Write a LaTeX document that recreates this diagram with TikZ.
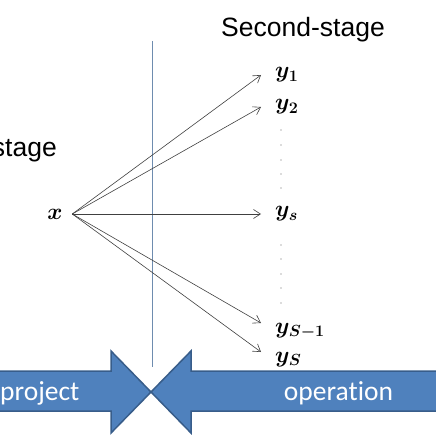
\RequirePackage{fix-cm}
\documentclass[tikz,border=0pt]{standalone}
\usepackage{amsmath,bm}
\usepackage{fontspec}
\setmainfont{Liberation Sans}
\newfontfamily\calib[Ligatures=NoCommon]{Carlito}
\usetikzlibrary{arrows.meta}
\newcommand{\labsize}{\fontsize{23}{26}\selectfont\boldmath}
\begin{document}
\begin{tikzpicture}[x=1pt,y=-1pt,
    stagetxt/.style={font=\fontsize{26.5pt}{30pt}\selectfont, inner sep=0pt},
    bandtxt/.style={font=\calib\fontsize{27.5pt}{30pt}\selectfont, text=white, inner sep=0pt},
    lbl/.style={font=\labsize, inner ysep=0pt, inner xsep=14pt},
    arr/.style={draw=black!75, line width=0.6pt, -{Straight Barb[length=7pt,width=9pt]}}]
    \useasboundingbox (0,0) rectangle (435,435);

    % Stufen
    \node[stagetxt, anchor=base] (second) at (303,37) {Second-stage};
    \node[stagetxt, anchor=base east] (first) at (57,157) {First-stage};

    % Trennlinie
    \draw[color={rgb,255:red,110;green,140;blue,175}, line width=0.7pt] (152.5,41) -- (152.5,367);

    % Entscheidungen
    \node[lbl, inner xsep=9.5pt] (x) at (55,214) {$x$};
    \node[lbl, anchor=west] (y1) at (261,75) {$y_1$};
    \node[lbl, anchor=west] (y2) at (261,107) {$y_2$};
    \node[lbl, anchor=west] (ys) at (261,214) {$y_s$};
    \node[lbl, anchor=north west] (ySm) at (261,323) {$y_{S-1}$};
    \node[lbl, anchor=north west] (yS) at (261,352) {$y_S$};

    \foreach \t in {y1, y2, ys} {
        \draw[arr] (x.east) -- (\t.west);
    }
    \foreach \t in {ySm, yS} {
        \draw[arr] (x.east) -- (\t.north west);
    }

    % Punkte
    \foreach \d in {130, 145, 160, 174, 188, 245, 259, 274, 288, 303} {
        \fill[black!60] (281,\d) circle (0.7);
    }

    % Pfeile unten
    \fill[color={rgb,255:red,79;green,129;blue,189}, draw={rgb,255:red,56;green,93;blue,138}, line width=1.5pt]
        (-5,371) -- (111,371) -- (111,351) -- (151,392) -- (111,433) -- (111,411) -- (-5,411) -- cycle;
    \fill[color={rgb,255:red,79;green,129;blue,189}, draw={rgb,255:red,56;green,93;blue,138}, line width=1.5pt]
        (440,371) -- (191,371) -- (191,351) -- (151,392) -- (191,433) -- (191,411) -- (440,411) -- cycle;
    \node[bandtxt, anchor=base west] (project) at (0,400) {project};
    \node[bandtxt, anchor=base] (operation) at (338.5,400) {operation};
\end{tikzpicture}
\end{document}
